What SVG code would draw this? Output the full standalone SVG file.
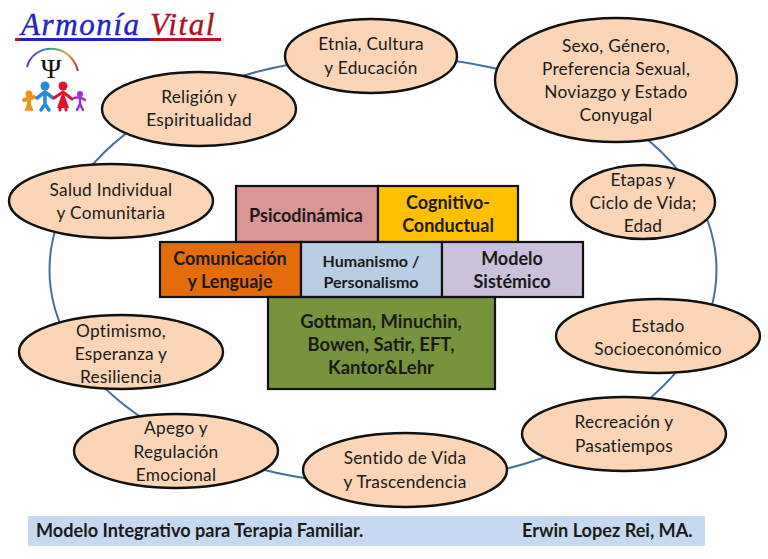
<svg xmlns="http://www.w3.org/2000/svg" width="768" height="559" viewBox="0 0 768 559">
<defs>
<linearGradient id="arc" x1="0" y1="0" x2="1" y2="0"><stop offset="0" stop-color="#7a2e9e"/><stop offset=".3" stop-color="#3a6fd0"/><stop offset=".55" stop-color="#4caf60"/><stop offset=".8" stop-color="#d8b040"/><stop offset="1" stop-color="#b03030"/></linearGradient>
</defs>
<style>
text{font-family:"Lato","Carlito","Liberation Sans",sans-serif;text-anchor:middle;fill:#1a1a1a}
.n ellipse{fill:#fbd5b5;stroke:#111;stroke-width:2.4}
.n text{font-size:17.3px;letter-spacing:.25px;transform:translateY(.7px)}
.b rect{stroke:#111;stroke-width:2.2}
.b text{font-size:18px;font-weight:700;transform:translateY(.5px)}
.p{stroke-linecap:round;fill:none}
</style>
<rect width="768" height="559" fill="#fff"/>
<g id="connectors"><ellipse cx="383" cy="270" rx="333.500" ry="214" fill="none" stroke="#44709f" stroke-width="2"/></g>

<g id="logo">
<text x="21" y="35" style="font-family:'Liberation Serif',serif;font-style:italic;font-size:31px;text-anchor:start;letter-spacing:1.600px;fill:#2222cc;stroke:#2222cc;stroke-width:.4">Armonía <tspan fill="#b01020" stroke="#b01020">Vital</tspan></text>
<rect x="15" y="38" width="136" height="3" fill="#2020cc"/><rect x="150" y="38" width="71" height="3" fill="#c01020"/><rect x="15" y="38" width="5" height="3" fill="#c01020"/>
<path d="M27 67C33 43 70 41 78 71" fill="none" stroke="url(#arc)" stroke-width="2"/>
<text x="51" y="78" style="font-family:'Liberation Serif',serif;font-size:28px;fill:#111">Ψ</text>
<g fill="#f09020"><circle cx="29" cy="94" r="3.500"/></g><path class="p" d="M24 100L34 97M29 98V109" stroke="#f09020" stroke-width="4"/><path class="p" d="M29 103L26 110M29 103L32 110" stroke="#f09020" stroke-width="2.500"/>
<circle cx="45" cy="86" r="4.500" fill="#2a88d8"/><path class="p" d="M37 98L45 92L53 98M45 92V104M45 104L41 110M45 104L49 110" stroke="#2a88d8" stroke-width="3.500"/>
<circle cx="63" cy="86" r="4.500" fill="#e01030"/><path d="M63 91L69 108H57Z" fill="#e01030"/><path class="p" d="M54 98L63 92L72 99M60 108V110M66 108V110" stroke="#e01030" stroke-width="3"/>
<circle cx="80" cy="94" r="3" fill="#9a30d8"/><path class="p" d="M74 98L80 97L85 100M80 98V104M80 104L77 110M80 104L83 110" stroke="#9a30d8" stroke-width="2.500"/>
</g>

<g id="n1" class="n"><ellipse cx="371" cy="56" rx="86" ry="37"/><text x="371" y="49">Etnia, Cultura</text><text x="371" y="73">y Educación</text></g>
<g id="n2" class="n"><ellipse cx="616" cy="80" rx="121" ry="62"/><text x="616" y="51">Sexo, Género,</text><text x="616" y="74">Preferencia Sexual,</text><text x="616" y="97">Noviazgo y Estado</text><text x="616" y="120">Conyugal</text></g>
<g id="n3" class="n"><ellipse cx="199" cy="109" rx="97" ry="37"/><text x="199" y="102">Religión y</text><text x="199" y="125">Espiritualidad</text></g>
<g id="n4" class="n"><ellipse cx="111" cy="201" rx="102" ry="37"/><text x="111" y="195">Salud Individual</text><text x="111" y="218">y Comunitaria</text></g>
<g id="n5" class="n"><ellipse cx="643" cy="202" rx="72" ry="37"/><text x="643" y="185">Etapas y</text><text x="643" y="208">Ciclo de Vida;</text><text x="643" y="231">Edad</text></g>
<g id="n6" class="n"><ellipse cx="658" cy="336" rx="102" ry="37"/><text x="658" y="331">Estado</text><text x="658" y="354">Socioeconómico</text></g>
<g id="n7" class="n"><ellipse cx="121" cy="352" rx="102" ry="37"/><text x="121" y="336">Optimismo,</text><text x="121" y="359">Esperanza y</text><text x="121" y="382">Resiliencia</text></g>
<g id="n8" class="n"><ellipse cx="624" cy="434" rx="102" ry="37"/><text x="624" y="427">Recreación y</text><text x="624" y="451">Pasatiempos</text></g>
<g id="n9" class="n"><ellipse cx="176" cy="451" rx="102" ry="37"/><text x="176" y="433">Apego y</text><text x="176" y="457">Regulación</text><text x="176" y="480">Emocional</text></g>
<g id="n10" class="n"><ellipse cx="405" cy="470" rx="102" ry="37"/><text x="405" y="463">Sentido de Vida</text><text x="405" y="487">y Trascendencia</text></g>

<g id="psico" class="b"><rect x="236" y="186" width="142" height="56" fill="#d99694"/><text x="306" y="221">Psicodinámica</text></g>
<g id="cog" class="b"><rect x="378" y="186" width="140" height="56" fill="#ffc000"/><text x="448" y="208">Cognitivo-</text><text x="448" y="231">Conductual</text></g>
<g id="com" class="b"><rect x="160" y="242" width="141" height="55" fill="#e46c0a"/><text x="230" y="264">Comunicación</text><text x="230" y="287">y Lenguaje</text></g>
<g id="hum" class="b"><rect x="301" y="242" width="141" height="55" fill="#b9cde5"/><text x="371" y="266" style="font-size:16px">Humanismo /</text><text x="371" y="287" style="font-size:16px">Personalismo</text></g>
<g id="sis" class="b"><rect x="442" y="242" width="141" height="55" fill="#ccc1da"/><text x="512" y="264">Modelo</text><text x="512" y="287">Sistémico</text></g>
<g id="got" class="b"><rect x="268" y="297" width="227" height="92" fill="#77933c"/><text x="381" y="327" style="font-size:18.400px">Gottman, Minuchin,</text><text x="381" y="350" style="font-size:18.400px">Bowen, Satir, EFT,</text><text x="381" y="373" style="font-size:18.400px">Kantor&amp;Lehr</text></g>

<g id="footer"><rect x="28" y="516" width="677" height="30" fill="#c6d9f1"/><text x="36" y="537" style="text-anchor:start;font-size:18.100px;font-weight:700">Modelo Integrativo para Terapia Familiar.</text><text x="522" y="537" style="text-anchor:start;font-size:18.100px;font-weight:700">Erwin Lopez Rei, MA.</text></g>
</svg>
